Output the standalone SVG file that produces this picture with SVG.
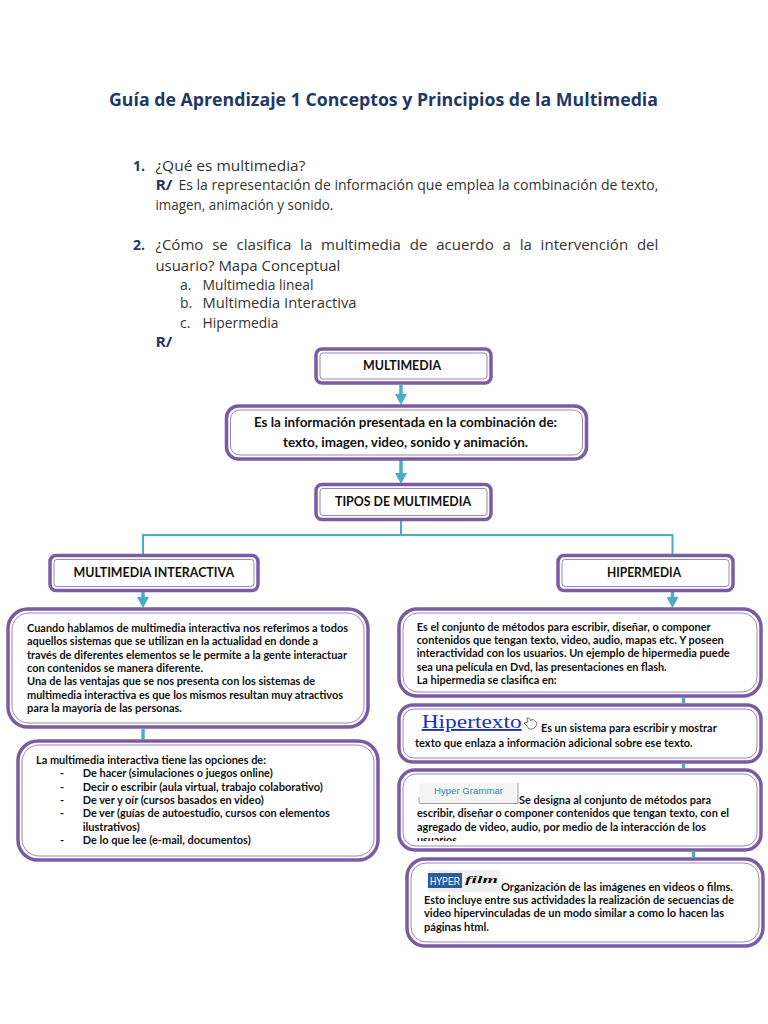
<svg xmlns="http://www.w3.org/2000/svg" width="768" height="1024" viewBox="0 0 768 1024">
<style>
text{font-family:"Lato","Liberation Sans",sans-serif;fill:#111}
.o{fill:#fff;stroke:#7a5ca3;stroke-width:3.5}
.i{fill:#fff;stroke:#9a85bd;stroke-width:1}
.h{font-weight:700;font-size:13px;text-anchor:start}
.b{font-weight:700;font-size:10.8px}
.t{font-family:"Open Sans","Liberation Sans",sans-serif;font-size:14px;fill:#333}
.n{font-family:"Open Sans","Liberation Sans",sans-serif;font-size:14px;font-weight:700;fill:#1f3864}
.c{fill:none;stroke:#4bacc6}
.a{stroke-width:3.5}
.l{stroke-width:2}
</style>
<defs>
<marker id="ah" markerUnits="userSpaceOnUse" markerWidth="11" markerHeight="12" refX="3" refY="6" orient="auto"><path d="M0 0L11 6L0 12Z" fill="#4bacc6"/></marker>
<clipPath id="cut"><rect x="410" y="836" width="100" height="5"/></clipPath>
</defs>

<g id="page-text">
<text x="109" y="106" textLength="549" lengthAdjust="spacingAndGlyphs" style="font-family:'Open Sans','Liberation Sans',sans-serif;font-weight:700;font-size:17px;fill:#1f3864">Guía de Aprendizaje 1 Conceptos y Principios de la Multimedia</text>
<text class="n" x="133" y="171">1.</text>
<text class="t" x="155.4" y="171" textLength="150" lengthAdjust="spacingAndGlyphs">¿Qué es multimedia?</text>
<text class="n" x="155.4" y="190" textLength="17" lengthAdjust="spacingAndGlyphs">R/</text>
<text class="t" x="178.4" y="190" textLength="480" lengthAdjust="spacingAndGlyphs">Es la representación de información que emplea la combinación de texto,</text>
<text class="t" x="155.4" y="210" textLength="178" lengthAdjust="spacingAndGlyphs">imagen, animación y sonido.</text>
<text class="n" x="133" y="250">2.</text>
<text class="t" x="155.4" y="250" word-spacing="4.500" textLength="503" lengthAdjust="spacingAndGlyphs">¿Cómo se clasifica la multimedia de acuerdo a la intervención del</text>
<text class="t" x="155.4" y="271" textLength="185" lengthAdjust="spacingAndGlyphs">usuario? Mapa Conceptual</text>
<text class="t" x="180" y="290">a.</text>
<text class="t" x="202.5" y="290" textLength="111" lengthAdjust="spacingAndGlyphs">Multimedia lineal</text>
<text class="t" x="180" y="308">b.</text>
<text class="t" x="202.5" y="308" textLength="154" lengthAdjust="spacingAndGlyphs">Multimedia Interactiva</text>
<text class="t" x="180" y="328">c.</text>
<text class="t" x="202.5" y="328" textLength="76" lengthAdjust="spacingAndGlyphs">Hipermedia</text>
<text class="n" x="155.4" y="347" textLength="17" lengthAdjust="spacingAndGlyphs">R/</text>
</g>

<g id="connectors" class="c">
<path class="c a" d="M401 385V397" marker-end="url(#ah)"/>
<path class="c a" d="M401 460V476" marker-end="url(#ah)"/>
<path class="c l" d="M401 521V535M143 554V535H672.500V554"/>
<path class="c a" d="M143 592V600" marker-end="url(#ah)"/>
<path class="c a" d="M672.500 592V600" marker-end="url(#ah)"/>
<path class="c a" d="M143 729V739"/>
<path class="c a" d="M683.500 698V703"/>
<path class="c a" d="M683.500 764V768"/>
<path class="c a" d="M693.500 852V857"/>
</g>

<g id="n-multimedia">
<rect class="o" x="316" y="349" width="175" height="34" rx="6"/><rect class="i" x="320" y="353" width="167" height="26" rx="3"/>
<text class="h" x="363" y="370" textLength="78" lengthAdjust="spacingAndGlyphs">MULTIMEDIA</text>
</g>
<g id="n-definicion">
<rect class="o" x="226.500" y="406" width="360" height="53" rx="12"/><rect class="i" x="230.500" y="410" width="352" height="45" rx="9"/>
<text class="h" x="254" y="427" textLength="303" lengthAdjust="spacingAndGlyphs">Es la información presentada en la combinación de:</text>
<text class="h" x="283" y="446.700" textLength="245" lengthAdjust="spacingAndGlyphs">texto, imagen, video, sonido y animación.</text>
</g>
<g id="n-tipos">
<rect class="o" x="316" y="484.500" width="175" height="35" rx="6"/><rect class="i" x="320" y="488.500" width="167" height="27" rx="3"/>
<text class="h" x="335" y="505.700" textLength="136" lengthAdjust="spacingAndGlyphs">TIPOS DE MULTIMEDIA</text>
</g>
<g id="n-interactiva">
<rect class="o" x="50" y="555.500" width="208" height="35" rx="6"/><rect class="i" x="54" y="559.500" width="200" height="27" rx="3"/>
<text class="h" x="73.500" y="576.700" textLength="160.500" lengthAdjust="spacingAndGlyphs">MULTIMEDIA INTERACTIVA</text>
</g>
<g id="n-hipermedia">
<rect class="o" x="558" y="555.500" width="175" height="35" rx="6"/><rect class="i" x="562" y="559.500" width="167" height="27" rx="3"/>
<text class="h" x="607" y="576.700" textLength="74" lengthAdjust="spacingAndGlyphs">HIPERMEDIA</text>
</g>

<g id="n-interactiva-texto">
<rect class="o" x="8" y="609" width="360" height="118" rx="20"/><rect class="i" x="12" y="613" width="352" height="110" rx="17"/>
<text class="b" x="27" y="632" textLength="321" lengthAdjust="spacingAndGlyphs">Cuando hablamos de multimedia interactiva nos referimos a todos</text>
<text class="b" x="27" y="645" textLength="291" lengthAdjust="spacingAndGlyphs">aquellos sistemas que se utilizan en la actualidad en donde a</text>
<text class="b" x="27" y="658.500" textLength="320" lengthAdjust="spacingAndGlyphs">través de diferentes elementos se le permite a la gente interactuar</text>
<text class="b" x="27" y="672" textLength="176" lengthAdjust="spacingAndGlyphs">con contenidos se manera diferente.</text>
<text class="b" x="27" y="685" textLength="288" lengthAdjust="spacingAndGlyphs">Una de las ventajas que se nos presenta con los sistemas de</text>
<text class="b" x="27" y="698.500" textLength="316" lengthAdjust="spacingAndGlyphs">multimedia interactiva es que los mismos resultan muy atractivos</text>
<text class="b" x="27" y="712" textLength="155" lengthAdjust="spacingAndGlyphs">para la mayoría de las personas.</text>
</g>
<g id="n-interactiva-opciones">
<rect class="o" x="18" y="741" width="360" height="119" rx="20"/><rect class="i" x="22" y="745" width="352" height="111" rx="17"/>
<text class="b" x="36" y="764" textLength="230" lengthAdjust="spacingAndGlyphs">La multimedia interactiva tiene las opciones de:</text>
<text class="b" x="60" y="777">-</text><text class="b" x="82.700" y="777" textLength="190" lengthAdjust="spacingAndGlyphs">De hacer (simulaciones o juegos online)</text>
<text class="b" x="60" y="791">-</text><text class="b" x="82.700" y="791" textLength="240" lengthAdjust="spacingAndGlyphs">Decir o escribir (aula virtual, trabajo colaborativo)</text>
<text class="b" x="60" y="804">-</text><text class="b" x="82.700" y="804" textLength="181" lengthAdjust="spacingAndGlyphs">De ver y oír (cursos basados en video)</text>
<text class="b" x="60" y="817">-</text><text class="b" x="82.700" y="817" textLength="247" lengthAdjust="spacingAndGlyphs">De ver (guías de autoestudio, cursos con elementos</text>
<text class="b" x="82.700" y="831" textLength="57" lengthAdjust="spacingAndGlyphs">ilustrativos)</text>
<text class="b" x="60" y="844">-</text><text class="b" x="82.700" y="844" textLength="168" lengthAdjust="spacingAndGlyphs">De lo que lee (e-mail, documentos)</text>
</g>

<g id="n-hipermedia-texto">
<rect class="o" x="399" y="609" width="362" height="87" rx="18"/><rect class="i" x="403" y="613" width="354" height="79" rx="15"/>
<text class="b" x="416.700" y="630.700" textLength="294" lengthAdjust="spacingAndGlyphs">Es el conjunto de métodos para escribir, diseñar, o componer</text>
<text class="b" x="416.700" y="644" textLength="307" lengthAdjust="spacingAndGlyphs">contenidos que tengan texto, video, audio, mapas etc. Y poseen</text>
<text class="b" x="416.700" y="657" textLength="313" lengthAdjust="spacingAndGlyphs">interactividad con los usuarios. Un ejemplo de hipermedia puede</text>
<text class="b" x="416.700" y="670.700" textLength="250" lengthAdjust="spacingAndGlyphs">sea una película en Dvd, las presentaciones en flash.</text>
<text class="b" x="416.700" y="684" textLength="140" lengthAdjust="spacingAndGlyphs">La hipermedia se clasifica en:</text>
</g>
<g id="n-hipertexto">
<rect class="o" x="399" y="705" width="362" height="57" rx="14"/><rect class="i" x="403" y="709" width="354" height="49" rx="11"/>
<text x="421.700" y="728" textLength="100" lengthAdjust="spacingAndGlyphs" style="font-family:'Liberation Serif',serif;font-size:19px;fill:#1a2fc8;text-decoration:underline">Hipertexto</text>
<path d="M524 723l4-1l-1-4l2 0l2 3l1-2l2 1l1 1l2 2l-1 3l-3 3l-4 0l-2-3l-3-3z" fill="#fff" stroke="#444" stroke-width=".7"/>
<text class="b" x="541" y="732" textLength="175.700" lengthAdjust="spacingAndGlyphs">Es un sistema para escribir y mostrar</text>
<text class="b" x="415" y="747" textLength="277.700" lengthAdjust="spacingAndGlyphs">texto que enlaza a información adicional sobre ese texto.</text>
</g>
<g id="n-hypergrammar">
<rect class="o" x="399" y="770" width="362" height="80" rx="16"/><rect class="i" x="403" y="774" width="354" height="72" rx="13"/>
<path d="M419 801V787Q419 783 423 783H518V803H421Q419 803 419 801Z" fill="#f4f4f4"/>
<path d="M419 797V802Q419 803.500 421 803.500H518V783" fill="none" stroke="#777" stroke-width=".7"/>
<text x="434" y="794" textLength="69" lengthAdjust="spacingAndGlyphs" style="font-family:'Liberation Sans',sans-serif;font-size:9.500px;fill:#2a8fb5">Hyper Grammar</text>
<text class="b" x="519" y="804" textLength="192" lengthAdjust="spacingAndGlyphs">Se designa al conjunto de métodos para</text>
<text class="b" x="417" y="817" textLength="312" lengthAdjust="spacingAndGlyphs">escribir, diseñar o componer contenidos que tengan texto, con el</text>
<text class="b" x="417" y="831" textLength="289" lengthAdjust="spacingAndGlyphs">agregado de video, audio, por medio de la interacción de los</text>
<text class="b" x="417" y="844" textLength="40" lengthAdjust="spacingAndGlyphs" clip-path="url(#cut)">usuarios</text>
</g>
<g id="n-hyperfilm">
<rect class="o" x="407" y="859" width="356" height="87" rx="18"/><rect class="i" x="411" y="863" width="348" height="79" rx="15"/>
<rect x="428" y="870" width="72" height="22" fill="#efefef"/>
<rect x="428" y="873" width="34" height="15" fill="#2b5c96"/>
<text x="430" y="884.500" textLength="30" lengthAdjust="spacingAndGlyphs" style="font-family:'Liberation Sans',sans-serif;font-size:10.500px;fill:#fff">HYPER</text>
<text x="465" y="883" textLength="33" lengthAdjust="spacingAndGlyphs" style="font-family:'Liberation Serif',serif;font-size:11px;font-weight:700;font-style:italic;fill:#111">film</text>
<text class="b" x="501" y="891" textLength="232" lengthAdjust="spacingAndGlyphs">Organización de las imágenes en videos o films.</text>
<text class="b" x="424" y="904" textLength="310" lengthAdjust="spacingAndGlyphs">Esto incluye entre sus actividades la realización de secuencias de</text>
<text class="b" x="424" y="917" textLength="300" lengthAdjust="spacingAndGlyphs">video hipervinculadas de un modo similar a como lo hacen las</text>
<text class="b" x="424" y="931" textLength="65" lengthAdjust="spacingAndGlyphs">páginas html.</text>
</g>
</svg>
